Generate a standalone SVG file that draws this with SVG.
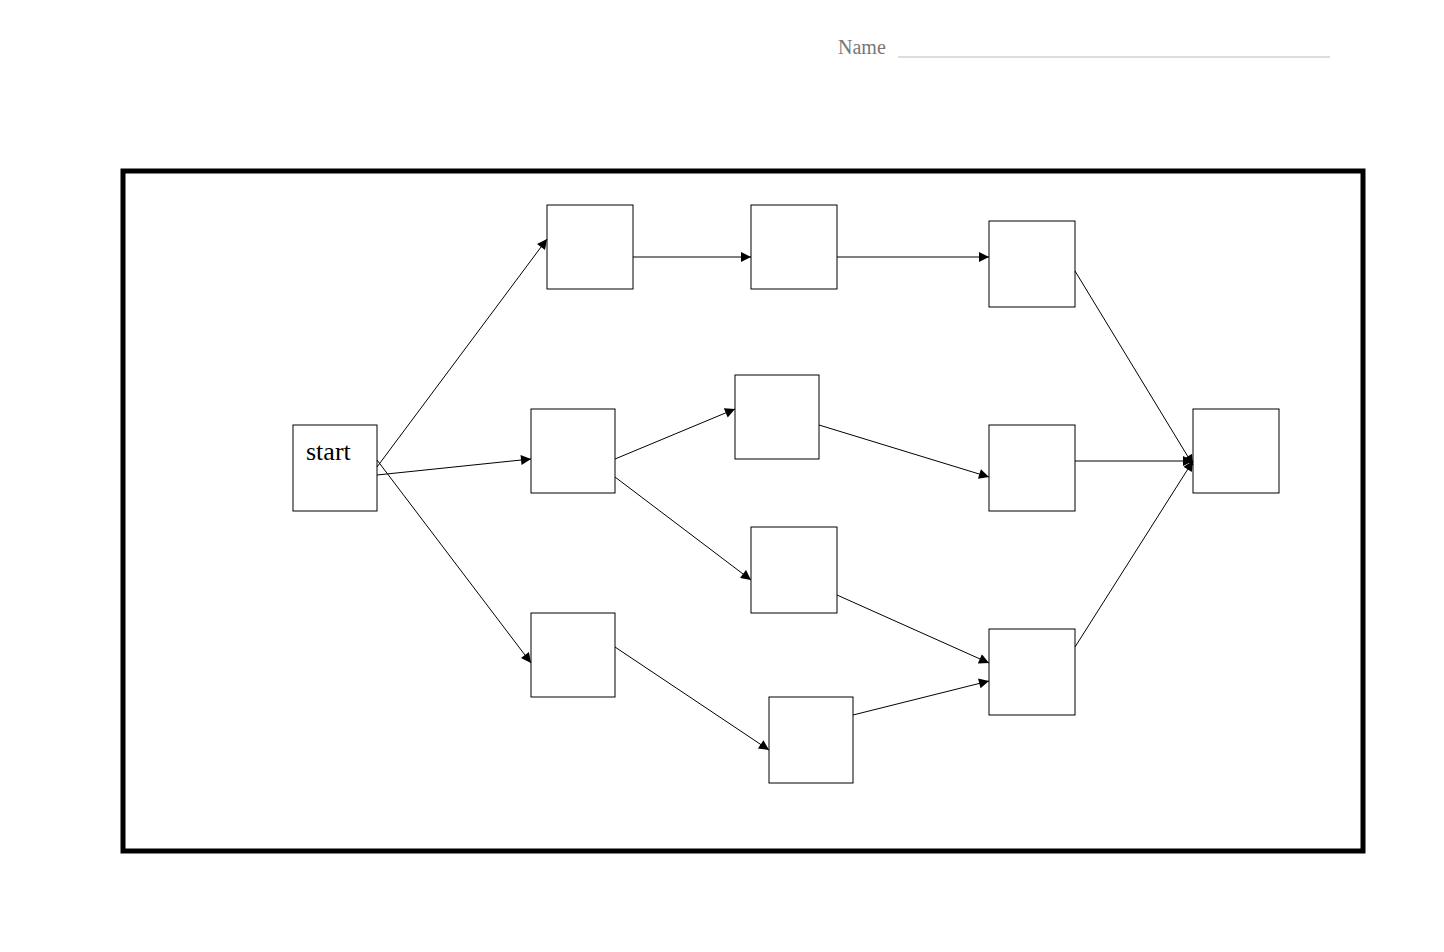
<svg xmlns="http://www.w3.org/2000/svg" width="1444" height="952" viewBox="0 0 1444 952">
<style>
.n{fill:#fff;stroke:#000;stroke-width:1}
.c line{stroke:#000;stroke-width:1;marker-end:url(#a)}
</style>
<defs><marker id="a" viewBox="0 0 10 10" refX="10" refY="5" markerWidth="13" markerHeight="10" markerUnits="userSpaceOnUse" orient="auto"><path d="M0,0L10,5L0,10z"/></marker></defs>
<rect width="1444" height="952" fill="#fff"/>
<text x="838" y="54" font-family="Liberation Serif,serif" font-size="20" fill="#777">Name</text>
<line x1="898" y1="57" x2="1330" y2="57" stroke="#bbb" stroke-width="1"/>
<rect x="123" y="171" width="1240" height="680" fill="none" stroke="#000" stroke-width="5"/>
<g id="start"><rect class="n" x="293" y="425" width="84" height="86"/><text x="306" y="460" font-family="Liberation Serif,serif" font-size="26">start</text></g>
<g id="a1"><rect class="n" x="547" y="205" width="86" height="84"/></g>
<g id="a2"><rect class="n" x="751" y="205" width="86" height="84"/></g>
<g id="a3"><rect class="n" x="989" y="221" width="86" height="86"/></g>
<g id="b1"><rect class="n" x="531" y="409" width="84" height="84"/></g>
<g id="b2"><rect class="n" x="735" y="375" width="84" height="84"/></g>
<g id="b3"><rect class="n" x="989" y="425" width="86" height="86"/></g>
<g id="c1"><rect class="n" x="751" y="527" width="86" height="86"/></g>
<g id="d1"><rect class="n" x="531" y="613" width="84" height="84"/></g>
<g id="d2"><rect class="n" x="769" y="697" width="84" height="86"/></g>
<g id="e1"><rect class="n" x="989" y="629" width="86" height="86"/></g>
<g id="end"><rect class="n" x="1193" y="409" width="86" height="84"/></g>
<g class="c" id="connectors">
<line x1="377" y1="467" x2="547" y2="239"/>
<line x1="377" y1="475" x2="531" y2="459"/>
<line x1="377" y1="460" x2="531" y2="663"/>
<line x1="633" y1="257" x2="751" y2="257"/>
<line x1="837" y1="257" x2="989" y2="257"/>
<line x1="1075" y1="271" x2="1193" y2="465"/>
<line x1="615" y1="459" x2="735" y2="409"/>
<line x1="615" y1="477" x2="751" y2="580"/>
<line x1="819" y1="425" x2="989" y2="477"/>
<line x1="1075" y1="461" x2="1193" y2="461"/>
<line x1="837" y1="595" x2="989" y2="663"/>
<line x1="615" y1="647" x2="769" y2="750"/>
<line x1="853" y1="715" x2="989" y2="681"/>
<line x1="1075" y1="647" x2="1193" y2="461"/>
</g>
</svg>
